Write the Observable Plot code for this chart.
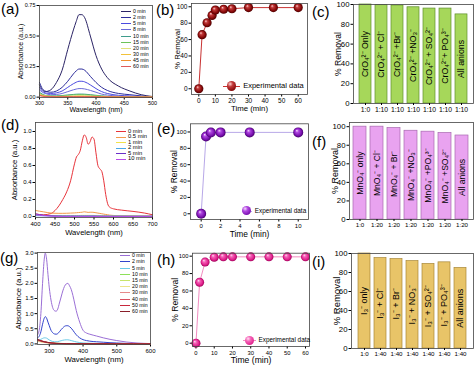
<!DOCTYPE html>
<html><head><meta charset="utf-8">
<script src="https://cdn.jsdelivr.net/npm/d3@7"></script>
<script src="https://cdn.jsdelivr.net/npm/@observablehq/plot@0.6"></script>
<style>
body{margin:0;background:#fff;}
#root{position:relative;width:474px;height:366px;overflow:hidden;font-family:"Liberation Sans",Arial,sans-serif;color:#000;}
.lab{position:absolute;font-size:15px;line-height:1;white-space:nowrap;}
.legrow{position:absolute;line-height:1;white-space:nowrap;display:flex;align-items:center;}
.sw{display:inline-block;height:0;border-top:1px solid;margin-right:2px;}
.sph{position:absolute;border-radius:50%;}
</style>
</head><body>
<svg width="0" height="0" style="position:absolute">
<defs>
<radialGradient id="gB" cx="0.5" cy="0.5" r="0.5" fx="0.35" fy="0.3">
<stop offset="0" stop-color="#ffd6d6"/><stop offset="0.3" stop-color="#c23a3a"/><stop offset="0.75" stop-color="#860909"/><stop offset="1" stop-color="#4a0000"/></radialGradient>
<radialGradient id="gE" cx="0.5" cy="0.5" r="0.5" fx="0.35" fy="0.3">
<stop offset="0" stop-color="#f6d8ff"/><stop offset="0.3" stop-color="#b048e0"/><stop offset="0.75" stop-color="#7a10b0"/><stop offset="1" stop-color="#44006a"/></radialGradient>
<radialGradient id="gH" cx="0.5" cy="0.5" r="0.5" fx="0.35" fy="0.3">
<stop offset="0" stop-color="#ffe0f2"/><stop offset="0.3" stop-color="#f565b8"/><stop offset="0.75" stop-color="#e0208c"/><stop offset="1" stop-color="#a00058"/></radialGradient>
</defs></svg>
<div id="root"></div>
<script>
// ---------- DATA ----------
// (a) CrO4 2- spectra
const wlA = [300,305,310,320,330,340,350,360,365,370,375,380,390,400,410,420,440,460,480,500];
const seriesA = ["0 min","2 min","5 min","8 min","10 min","15 min","20 min","30 min","45 min","60 min"];
const colorsA = ["#2b2466","#2e2e9c","#4b4be0","#6a6ad8","#3f9c8c","#6cc35a","#e2e07a","#f2c23a","#f0902e","#e05a5a"];
const absA0  = [0.10,0.06,0.045,0.06,0.12,0.22,0.39,0.55,0.62,0.675,0.675,0.65,0.50,0.34,0.23,0.16,0.09,0.05,0.02,0.005];
const absA2  = [0.12,0.07,0.05,0.04,0.05,0.08,0.13,0.19,0.215,0.23,0.23,0.22,0.17,0.12,0.08,0.055,0.03,0.02,0.01,0.003];
const absA5  = [0.08,0.05,0.035,0.03,0.035,0.05,0.08,0.11,0.122,0.13,0.13,0.125,0.10,0.07,0.045,0.03,0.015,0.01,0.005,0.002];
const absA8  = [0.06,0.04,0.03,0.02,0.022,0.03,0.045,0.06,0.066,0.07,0.07,0.067,0.055,0.04,0.025,0.017,0.009,0.005,0.003,0.001];
const absA10 = [0.04,0.025,0.015,0.01,0.01,0.013,0.018,0.022,0.024,0.025,0.025,0.024,0.02,0.015,0.01,0.006,0.003,0.002,0.001,0];
const absA15 = [0.03,0.02,0.012,0.008,0.008,0.01,0.014,0.018,0.019,0.02,0.02,0.019,0.016,0.012,0.008,0.005,0.002,0.001,0,0];
const absA20 = [0.025,0.015,0.01,0.006,0.005,0.006,0.008,0.01,0.011,0.012,0.012,0.011,0.009,0.007,0.005,0.003,0.001,0,0,0];
const absA30 = [0.02,0.012,0.008,0.005,0.004,0.004,0.005,0.006,0.007,0.007,0.007,0.007,0.006,0.004,0.003,0.002,0.001,0,0,0];
const absA45 = [0.015,0.01,0.006,0.004,0.003,0.003,0.004,0.004,0.005,0.005,0.005,0.005,0.004,0.003,0.002,0.001,0,0,0,0];
const absA60 = [0.012,0.008,0.005,0.003,0.002,0.002,0.003,0.003,0.003,0.003,0.003,0.003,0.003,0.002,0.001,0.001,0,0,0,0];
const valuesA = [absA0,absA2,absA5,absA8,absA10,absA15,absA20,absA30,absA45,absA60];

// (b) CrO4 2- kinetics
const timeB = [0,2,5,8,10,15,20,30,45,60];
const remB  = [0,66,80.5,89.5,96,97,97.6,99,99,99];

// (c) CrO4 2- interference
const barsC  = ["CrO₄²⁻ Only","CrO₄²⁻ + Cl⁻","CrO₄²⁻ +Br⁻","CrO₄²⁻ +NO₃⁻","CrO₄²⁻ + SO₄²⁻","CrO₄²⁻+ PO₄³⁻","All anions"];
const ratioC = ["1:0","1:10","1:10","1:10","1:10","1:10","1:10"];
const remC   = [100,99.3,99,97.2,95.9,95.9,90];

// (d) MnO4- spectra
const wlD = [400,420,440,450,460,470,480,490,500,505,510,515,520,525,530,535,540,545,550,555,560,565,570,575,580,585,590,600,620,650,680,700];
const seriesD = ["0 min","0.5 min","1 min","2 min","5 min","10 min"];
const colorsD = ["#e8333a","#f39a4a","#f2e24a","#4aa8e8","#6a2fc8","#b84ae8"];
const absD0  = [0.03,0.02,0.035,0.07,0.125,0.2,0.29,0.42,0.62,0.70,0.73,0.78,0.89,0.96,0.93,0.85,0.88,0.935,0.91,0.75,0.60,0.56,0.53,0.42,0.26,0.15,0.11,0.09,0.075,0.06,0.04,0.02];
const absD05 = [0.07,0.055,0.04,0.038,0.037,0.037,0.038,0.04,0.042,0.044,0.046,0.048,0.05,0.055,0.052,0.048,0.05,0.05,0.048,0.044,0.04,0.036,0.032,0.028,0.024,0.02,0.016,0.012,0.008,0.005,0.004,0.003];
const absD1  = [0.015,0.013,0.012,0.012,0.012,0.012,0.012,0.012,0.012,0.012,0.012,0.012,0.013,0.013,0.013,0.013,0.013,0.013,0.012,0.012,0.012,0.011,0.011,0.011,0.01,0.01,0.01,0.01,0.009,0.008,0.007,0.006];
const absD2  = [0.01,0.008,0.007,0.007,0.007,0.007,0.007,0.007,0.007,0.007,0.007,0.007,0.007,0.007,0.007,0.007,0.007,0.007,0.007,0.006,0.006,0.006,0.006,0.006,0.006,0.006,0.005,0.005,0.005,0.004,0.004,0.004];
const absD5  = [0.03,0.015,0.007,0.005,0.004,0.003,0.003,0.003,0.003,0.003,0.003,0.003,0.003,0.003,0.003,0.003,0.003,0.003,0.003,0.003,0.002,0.002,0.002,0.002,0.002,0.002,0.002,0.002,0.002,0.002,0.002,0.002];
const absD10 = [0.02,0.01,0.004,0.002,0.001,0.001,0.001,0.001,0.001,0.001,0.001,0.001,0.001,0.001,0.001,0.001,0.001,0.001,0.001,0.001,0.001,0.001,0.001,0.001,0.001,0.001,0.001,0.001,0.001,0.001,0.001,0.001];
const valuesD = [absD0,absD05,absD1,absD2,absD5,absD10];

// (e) MnO4- kinetics
const timeE = [0,0.5,1,2,5,10];
const remE  = [0,94.5,99.3,99.5,99.5,99.5];

// (f) MnO4- interference
const barsF  = ["MnO₄⁻ only","MnO₄⁻ + Cl⁻","MnO₄⁻ + Br⁻","MnO₄⁻ +NO₃⁻","MnO₄⁻ +PO₄³⁻","MnO₄⁻ +SO₄²⁻","All anions"];
const ratioF = ["1:0","1:20","1:20","1:20","1:20","1:20","1:20"];
const remF   = [100,100,98.5,95.6,94.6,93.2,90.5];

// (g) I3- spectra
const wlG = [265,270,275,280,285,288,292,296,300,305,310,315,320,325,330,335,340,345,350,355,360,365,370,375,380,390,400,410,420,440,460,480,500,530,560,600];
const wlG2 = [265,275,285,295,305,320,350,400,500,600];
const seriesG = ["0 min","2 min","5 min","10 min","15 min","20 min","30 min","40 min","50 min","60 min"];
const colorsG = ["#9b6fd6","#3344cc","#6ccbe8","#8ee05a","#c8e46a","#ece48a","#e68a8a","#d95060","#c8283c","#8a1f2a"];
const absG0 = [0.3,0.45,1.0,2.0,2.8,3.0,2.8,2.3,1.85,1.45,1.2,1.1,1.08,1.15,1.35,1.55,1.75,1.9,1.98,2.0,1.92,1.8,1.6,1.35,1.1,0.72,0.45,0.36,0.32,0.26,0.2,0.15,0.11,0.06,0.03,0.01];
const absG2 = [0.2,0.25,0.4,0.65,0.85,0.9,0.85,0.72,0.6,0.45,0.37,0.33,0.32,0.34,0.4,0.47,0.53,0.58,0.6,0.6,0.57,0.52,0.45,0.37,0.3,0.2,0.14,0.11,0.09,0.07,0.055,0.04,0.03,0.015,0.008,0];
const absG5 = [0.15,0.14,0.15,0.18,0.2,0.2,0.19,0.16,0.13,0.1,0.08,0.07,0.07,0.075,0.09,0.105,0.12,0.13,0.135,0.135,0.125,0.11,0.095,0.08,0.065,0.045,0.03,0.025,0.02,0.015,0.01,0.008,0.005,0.003,0.001,0];
const absG10 = [0.12,0.09,0.07,0.05,0.035,0.02,0.01,0.005,0.002,0];
const absG15 = [0.1,0.075,0.055,0.04,0.028,0.016,0.008,0.004,0.001,0];
const absG20 = [0.09,0.065,0.045,0.032,0.022,0.012,0.006,0.003,0.001,0];
const absG30 = [0.11,0.08,0.055,0.038,0.025,0.014,0.007,0.003,0.001,0];
const absG40 = [0.13,0.095,0.065,0.045,0.03,0.016,0.008,0.004,0.001,0];
const absG50 = [0.15,0.11,0.075,0.05,0.033,0.018,0.009,0.004,0.001,0];
const absG60 = [0.14,0.1,0.07,0.048,0.03,0.016,0.008,0.004,0.001,0];
const valuesG = [absG0,absG2,absG5,absG10,absG15,absG20,absG30,absG40,absG50,absG60];

// (h) I3- kinetics
const timeH = [0,2,5,10,15,20,30,40,50,60];
const remH  = [0,70,93.2,98.8,99.2,99.2,99.2,99.2,99.2,99.2];

// (i) I3- interference
const barsI  = ["I₃⁻ only","I₃⁻ + Cl⁻","I₃⁻ + Br⁻","I₃⁻ + NO₃⁻","I₃⁻ + SO₄²⁻","I₃⁻ + PO₄³⁻","All anions"];
const ratioI = ["1:0","1:40","1:40","1:40","1:40","1:40","1:40"];
const remI   = [100,95.2,94.1,92,89,90.7,84.8];

// ---------- HELPERS ----------
const root = document.getElementById("root");
const FONT = "'Liberation Sans', Arial, sans-serif";

function place(opts, fs, left, top) {
  const svg = Plot.plot({...opts, style:{fontFamily:FONT, fontSize:fs+"px", color:"#000", background:"none", overflow:"visible"}});
  svg.style.position = "absolute";
  svg.style.left = left + "px";
  svg.style.top = top + "px";
  root.appendChild(svg);
}
function xLabel(t, dy, fs) { return Plot.text([t], {text: d => d, frameAnchor: "bottom", dy, fontSize: fs, lineAnchor: "middle", textAnchor: "middle"}); }
function yLabel(t, dx, fs) { return Plot.text([t], {text: d => d, frameAnchor: "left", dx, rotate: -90, fontSize: fs, lineAnchor: "middle", textAnchor: "middle"}); }
function tidy(series, grids, values) {
  return series.flatMap((s, i) => grids[i].map((w, j) => ({s, w, a: values[i][j]})));
}
function panelLabel(t, x, y) {
  const d = document.createElement("div"); d.className = "lab"; d.textContent = t;
  d.style.left = x + "px"; d.style.top = y + "px"; root.appendChild(d);
}
function lineLegend(series, colors, x, y, step, swW, fs) {
  series.forEach((s, i) => {
    const r = document.createElement("div"); r.className = "legrow";
    r.style.left = x + "px"; r.style.top = (y + i * step - fs / 2) + "px"; r.style.fontSize = fs + "px"; r.style.height = fs + "px";
    const sw = document.createElement("span"); sw.className = "sw"; sw.style.width = swW + "px"; sw.style.borderColor = colors[i];
    const tx = document.createElement("span"); tx.textContent = s;
    r.appendChild(sw); r.appendChild(tx); root.appendChild(r);
  });
}
function dotLegend(text, lineColor, grad, cx, cy, rad, lineHalf, fs) {
  const ln = document.createElement("div");
  ln.style.cssText = `position:absolute;left:${cx-lineHalf}px;top:${cy}px;width:${2*lineHalf}px;border-top:1px solid ${lineColor};`;
  root.appendChild(ln);
  const sp = document.createElement("div"); sp.className = "sph";
  sp.style.cssText += `left:${cx-rad}px;top:${cy-rad}px;width:${2*rad}px;height:${2*rad}px;background:${grad};`;
  root.appendChild(sp);
  const t = document.createElement("div"); t.className = "legrow"; t.textContent = text;
  t.style.left = (cx + lineHalf + 3) + "px"; t.style.top = (cy - fs/2) + "px"; t.style.fontSize = fs + "px"; t.style.height = fs + "px";
  root.appendChild(t);
}
const ax = (o) => ({tickSize: 2.5, tickPadding: 1.5, label: null, ...o});

function spectra(data, series, colors, xd, xt, yd, yt, yfmt, geom, fs, labs) {
  place({
    width: geom.w, height: geom.h, marginLeft: geom.ml, marginRight: geom.mr, marginTop: geom.mt, marginBottom: geom.mb,
    x: ax({domain: xd, ticks: xt}),
    y: ax({domain: yd, ticks: yt, tickFormat: yfmt}),
    color: {domain: series, range: colors},
    marks: [
      Plot.line(data, {x: "w", y: "a", z: "s", stroke: "s", curve: "monotone-x", strokeWidth: 1}),
      Plot.frame({stroke: "#444", strokeWidth: 0.8}),
      xLabel("Wavelength (nm)", labs.dy, labs.fs),
      yLabel("Absorbance (a.u.)", labs.dx, labs.fs)
    ]
  }, fs, geom.left, geom.top);
}
function kinetics(t, r, xd, xt, yd, lineColor, grad, rad, geom, fs, labs) {
  const data = t.map((x, i) => ({t: x, r: r[i]}));
  place({
    width: geom.w, height: geom.h, marginLeft: geom.ml, marginRight: geom.mr, marginTop: geom.mt, marginBottom: geom.mb,
    x: ax({domain: xd, ticks: xt}),
    y: ax({domain: yd, ticks: [0,20,40,60,80,100]}),
    marks: [
      Plot.line(data, {x: "t", y: "r", stroke: lineColor, strokeWidth: 1}),
      Plot.dot(data, {x: "t", y: "r", r: rad, fill: grad, stroke: "none"}),
      Plot.frame({stroke: "#444", strokeWidth: 0.8}),
      xLabel("Time (min)", labs.dy, labs.fs),
      yLabel("% Removal", labs.dx, labs.fs)
    ]
  }, fs, geom.left, geom.top);
}
function bars(names, ratios, vals, yd, fill, stroke, geom, fs, xfs, labs) {
  const data = names.map((n, i) => ({n, v: vals[i]}));
  place({
    width: geom.w, height: geom.h, marginLeft: geom.ml, marginRight: geom.mr, marginTop: geom.mt, marginBottom: geom.mb,
    x: {domain: names, padding: 0.22, axis: null},
    y: ax({domain: yd, ticks: [0,20,40,60,80,100]}),
    marks: [
      Plot.barY(data, {x: "n", y: "v", fill, stroke, strokeWidth: 0.7, inset: 0}),
      Plot.text(data, {x: "n", y: d => d.v / 2, text: "n", rotate: -90, fontSize: labs.bfs, fill: "#000"}),
      Plot.frame({stroke: "#444", strokeWidth: 0.8}),
      Plot.axisX({fontSize: xfs, tickSize: 2, tickPadding: 1.5, label: null, tickFormat: (d) => ratios[names.indexOf(d)]}),
      yLabel("% Removal", labs.dx, labs.fs)
    ]
  }, fs, geom.left, geom.top);
}

// ---------- PANELS ----------
// (a)
spectra(tidy(seriesA, seriesA.map(() => wlA), valuesA), seriesA, colorsA,
  [300,500], [300,350,400,450,500], [-0.003,0.75], [0,0.25,0.5,0.75], d3.format(".2f"),
  {left:0, top:0, w:158, h:120, ml:39, mr:6, mt:5, mb:23}, 5.5, {dy:12, dx:-19, fs:7});
lineLegend(seriesA, colorsA, 121, 11.7, 6.1, 10, 5.2);
// (b)
kinetics(timeB, remB, [-4.4,65.6], [0,10,20,30,40,50,60], [-7,104], "#c83232", "url(#gB)", 4.6,
  {left:158, top:0, w:155, h:120, ml:33, mr:6, mt:3, mb:26}, 6.5, {dy:14.3, dx:-14.3, fs:7.8});
dotLegend("Experimental data", "#c83232", "radial-gradient(circle at 35% 30%, #ffd6d6 0%, #c23a3a 30%, #860909 75%, #4a0000 100%)", 231.7, 86, 4.6, 8.5, 7.5);
// (c)
bars(barsC, ratioC, remC, [0,100], "#a6d75a", "#5f8f2c",
  {left:313, top:0, w:161, h:120, ml:40, mr:1, mt:4, mb:17}, 7.8, 6.8, {dx:-15, fs:8.6, bfs:8.8});

// (d)
spectra(tidy(seriesD, seriesD.map(() => wlD), valuesD), seriesD, colorsD,
  [400,700], [400,450,500,550,600,650,700], [-0.012,1.106], [0,0.2,0.4,0.6,0.8,1.0], d3.format(".1f"),
  {left:0, top:120, w:158, h:122, ml:35, mr:6, mt:2, mb:25}, 6, {dy:14.7, dx:-21, fs:7.6});
lineLegend(seriesD, colorsD, 116, 131.7, 5.5, 10, 5.8);
// (e)
kinetics(timeE, remE, [-1.1,11.06], [0,2,4,6,8,10], [-7,110], "#b8a8e8", "url(#gE)", 5,
  {left:158, top:120, w:155, h:122, ml:32, mr:5, mt:3.3, mb:23}, 6, {dy:14.3, dx:-16.7, fs:8.4});
dotLegend("Experimental data", "#b8a8e8", "radial-gradient(circle at 35% 30%, #f6d8ff 0%, #b048e0 30%, #7a10b0 75%, #44006a 100%)", 246.7, 210.7, 4.5, 5, 6.4);
// (f)
bars(barsF, ratioF, remF, [0,104.5], "#e9a3f0", "#a868b0",
  {left:313, top:120, w:161, h:122, ml:36, mr:1, mt:2, mb:23}, 7.8, 6.2, {dx:-14.5, fs:9, bfs:8.6});

// (g)
spectra(tidy(seriesG, seriesG.map((s, i) => i < 3 ? wlG : wlG2), valuesG), seriesG, colorsG,
  [265,600], [300,400,500,600], [-0.02,3.02], [0,0.5,1,1.5,2,2.5,3], d3.format(".1f"),
  {left:0, top:240, w:158, h:126, ml:37, mr:8, mt:12, mb:22}, 6, {dy:14.6, dx:-19, fs:7.8});
lineLegend(seriesG, colorsG, 120, 255.7, 6.2, 10, 5.2);
// (h)
kinetics(timeH, remH, [-1.9,62.2], [0,10,20,30,40,50,60], [-3.8,103.4], "#f28cc0", "url(#gH)", 4.5,
  {left:158, top:240, w:155, h:126, ml:34, mr:4, mt:12.7, mb:20}, 5.8, {dy:14, dx:-17.3, fs:8.6});
dotLegend("Experimental data", "#f28cc0", "radial-gradient(circle at 35% 30%, #ffe0f2 0%, #f565b8 30%, #e0208c 75%, #a00058 100%)", 249, 340, 4.5, 6.5, 6.4);
// (i)
bars(barsI, ratioI, remI, [0,100], "#e8c468", "#a88838",
  {left:313, top:240, w:161, h:126, ml:38, mr:1, mt:13, mb:18}, 7.8, 6.2, {dx:-15, fs:9.5, bfs:9});

// panel labels
panelLabel("(a)", 1, 1);
panelLabel("(b)", 156, 2);
panelLabel("(c)", 312, 4);
panelLabel("(d)", 1, 117);
panelLabel("(e)", 157, 121);
panelLabel("(f)", 312, 134);
panelLabel("(g)", 0, 250);
panelLabel("(h)", 157, 252);
panelLabel("(i)", 312, 254);
</script>
</body></html>
